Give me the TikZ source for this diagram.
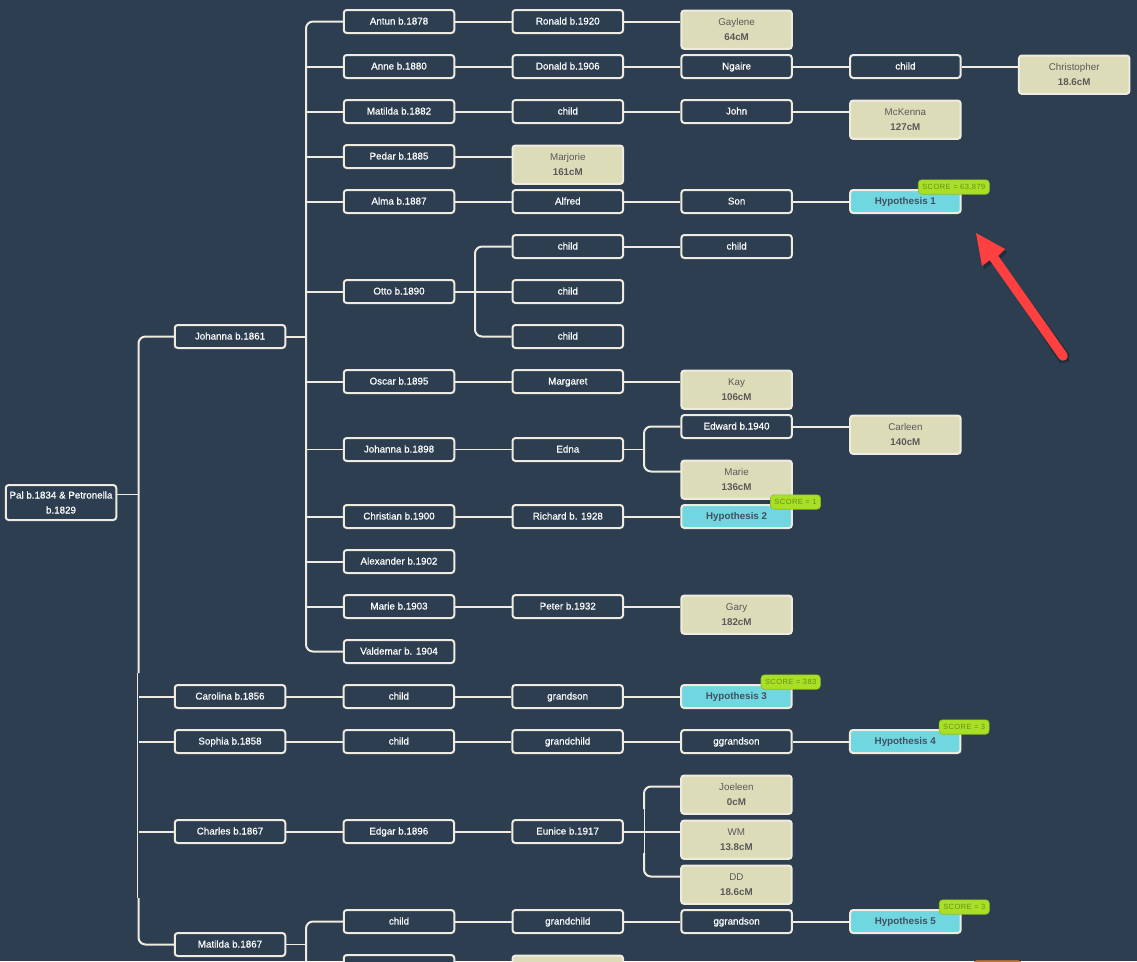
\documentclass[tikz,border=0pt]{standalone}
\usepackage{fontspec}
\setmainfont{Liberation Sans}
\usetikzlibrary{arrows}

\definecolor{treebg}{HTML}{2C3E50}
\definecolor{treeline}{HTML}{F0EBE0}
\definecolor{dnafill}{HTML}{DDDCB9}
\definecolor{hypfill}{HTML}{70D6E0}
\definecolor{scorefill}{HTML}{A8E026}
\definecolor{scoretext}{HTML}{6B8F1E}
\definecolor{offfill}{HTML}{C87533}
\definecolor{pointer}{HTML}{FF4040}

\tikzset{
  person/.style={draw=treeline, line width=2pt, rounded corners=3pt, fill=treebg,
    minimum width=110.5pt, minimum height=23pt, inner sep=0pt, align=center,
    text height=7.7pt, text depth=1.7pt, text=white,
    font=\fontsize{9.8}{15}\selectfont\addfontfeature{FakeBold=0.6}},
  dna/.style={person, fill=dnafill, minimum height=38.4pt, yshift=-8.2pt,
    text height=, text depth=, text=black!65, font=\fontsize{9.8}{15}\selectfont},
  hyp/.style={person, fill=hypfill, text=treebg!90!white, font=\fontsize{9.8}{15}\selectfont\bfseries},
  badge/.style={line width=.6pt, rounded corners=3.5pt, minimum height=14.4pt,
    inner xsep=4pt, inner ysep=0pt},
  score/.style={badge, fill=scorefill, draw=scorefill!85!black, anchor=east, yshift=2pt, xshift=28pt,
    text=scoretext, font=\fontsize{7.5}{9}\selectfont\addfontfeature{LetterSpace=6}},
  link/.style={draw=treeline, line width=2pt},
  thin link/.style={draw=treeline, line width=1pt}
}

\begin{document}
\begin{tikzpicture}[x=1pt,y=-1pt,node distance=168.8pt]
  \fill[treebg] (0,0) rectangle (1137,961);
  \clip (0,0) rectangle (1137,961);

  % bus points
  \coordinate (busroot) at (138,494);
  \coordinate (busupper) at (138.5,673);
  \coordinate (buslower) at (138.5,898);
  \coordinate (busthina) at (137.5,673);
  \coordinate (busthinb) at (137.5,898);
  \coordinate (busjoh) at (306,336.5);
  \coordinate (busotto) at (475,291.5);
  \coordinate (busedna) at (644,449.5);
  \coordinate (buseunice) at (644,809);
  \coordinate (buseunice2) at (644,853);
  \coordinate (busmat) at (306,944.5);
  \coordinate (marierow) at (681,471.5);
  \coordinate (joeleenrow) at (681,786.5);
  \coordinate (ddrow) at (681,876.5);

  % the people
  \node[person, minimum height=35pt, text height=, text depth=] (root) at (61,502.5) {Pal b.1834 \& Petronella\\b.1829};
  \node[person] (johanna) at (230,336.5) {Johanna b.1861};
  \node[person] (carolina) at (230,696.5) {Carolina b.1856};
  \node[person] (sophia) at (230,741.5) {Sophia b.1858};
  \node[person] (charles) at (230,831.5) {Charles b.1867};
  \node[person] (matilda) at (230,944.5) {Matilda b.1867};

  \node[person] (antun) at (399,21.5) {Antun b.1878};
  \node[person, node distance=45pt, below of=antun] (anne) {Anne b.1880};
  \node[person, node distance=45pt, below of=anne] (matilda2) {Matilda b.1882};
  \node[person, node distance=45pt, below of=matilda2] (pedar) {Pedar b.1885};
  \node[person, node distance=45pt, below of=pedar] (alma) {Alma b.1887};
  \node[person, node distance=90pt, below of=alma] (otto) {Otto b.1890};
  \node[person, node distance=90pt, below of=otto] (oscar) {Oscar b.1895};
  \node[person, node distance=68pt, below of=oscar] (johanna2) {Johanna b.1898};
  \node[person, node distance=67pt, below of=johanna2] (christian) {Christian b.1900};
  \node[person, node distance=45pt, below of=christian] (alexander) {Alexander b.1902};
  \node[person, node distance=45pt, below of=alexander] (marie2) {Marie b.1903};
  \node[person, node distance=45pt, below of=marie2] (valdemar) {Valdemar b. 1904};

  \node[person] (ronald) [right of=antun] {Ronald b.1920};
  \node[dna] (gaylene) [right of=ronald] {Gaylene\\\textbf{64cM}};
  \node[person] (donald) [right of=anne] {Donald b.1906};
  \node[person] (ngaire) [right of=donald] {Ngaire};
  \node[person] (childa) [right of=ngaire] {child};
  \node[dna] (christopher) [right of=childa] {Christopher\\\textbf{18.6cM}};
  \node[person] (childb) [right of=matilda2] {child};
  \node[person] (john) [right of=childb] {John};
  \node[dna] (mckenna) [right of=john] {McKenna\\\textbf{127cM}};
  \node[dna] (marjorie) [right of=pedar] {Marjorie\\\textbf{161cM}};
  \node[person] (alfred) [right of=alma] {Alfred};
  \node[person] (son) [right of=alfred] {Son};
  \node[hyp] (hypa) [right of=son] {Hypothesis 1};
  \node[person] (ottoa) [right of=otto, yshift=45pt] {child};
  \node[person] (ottoaa) [right of=ottoa] {child};
  \node[person] (ottob) [right of=otto] {child};
  \node[person] (ottoc) [right of=otto, yshift=-45pt] {child};
  \node[person] (margaret) [right of=oscar] {Margaret};
  \node[dna] (kay) [right of=margaret] {Kay\\\textbf{106cM}};
  \node[person] (edna) [right of=johanna2] {Edna};
  \node[person] (edward) [right of=edna, yshift=23pt] {Edward b.1940};
  \node[dna] (carleen) [right of=edward] {Carleen\\\textbf{140cM}};
  \node[dna] (marie) [right of=edna, yshift=-22pt] {Marie\\\textbf{136cM}};
  \node[person] (richard) [right of=christian] {Richard b. 1928};
  \node[hyp] (hypb) [right of=richard] {Hypothesis 2};
  \node[person] (peter) [right of=marie2] {Peter b.1932};
  \node[dna] (gary) [right of=peter] {Gary\\\textbf{182cM}};

  \node[person] (childc) [right of=carolina] {child};
  \node[person] (grandson) [right of=childc] {grandson};
  \node[hyp] (hypc) [right of=grandson] {Hypothesis 3};
  \node[person] (childd) [right of=sophia] {child};
  \node[person] (grandchilda) [right of=childd] {grandchild};
  \node[person] (ggrandsona) [right of=grandchilda] {ggrandson};
  \node[hyp] (hypd) [right of=ggrandsona] {Hypothesis 4};
  \node[person] (edgar) [right of=charles] {Edgar b.1896};
  \node[person] (eunice) [right of=edgar] {Eunice b.1917};
  \node[dna] (joeleen) [right of=eunice, yshift=45pt] {Joeleen\\\textbf{0cM}};
  \node[dna] (wm) [right of=eunice] {WM\\\textbf{13.8cM}};
  \node[dna] (dd) [right of=eunice, yshift=-45pt] {DD\\\textbf{18.6cM}};
  \node[person] (childe) at (399,921.5) {child};
  \node[person] (grandchildb) [right of=childe] {grandchild};
  \node[person] (ggrandsonb) [right of=grandchildb] {ggrandson};
  \node[hyp] (hype) [right of=ggrandsonb] {Hypothesis 5};
  \node[person] (lasta) at (399,966.5) {};
  \node[dna] (lastb) [right of=lasta] {};

  % scores
  \node[score] (scorea) at (hypa.north east) {SCORE = 63,879};
  \node[score] (scoreb) at (hypb.north east) {SCORE = 1};
  \node[score] (scorec) at (hypc.north east) {SCORE = 383};
  \node[score] (scored) at (hypd.north east) {SCORE = 3};
  \node[score] (scoree) at (hype.north east) {SCORE = 3};
  \node[badge, draw=offfill, fill=offfill, minimum width=48pt] (scoreoff) at (997.5,967.8) {};

  % connectors of the first bus
  \path[thin link] (busroot -| root.east) edge (busroot);
  \draw[link, rounded corners=7pt] (johanna.west) -| (busupper);
  \draw[thin link] (busthina) -- (busthinb);
  \draw[link, rounded corners=7pt] (buslower) |- (matilda.west);
  \path[link] (carolina.west) edge (carolina.west -| busupper)
  (sophia.west) edge (sophia.west -| busupper)
  (charles.west) edge (charles.west -| busupper);

  % connectors of Johanna b.1861
  \draw[link, rounded corners=7pt] (antun.west) -| (busjoh) |- (valdemar.west);
  \path[link] (johanna) edge (busjoh)
  (anne) edge (anne -| busjoh)
  (matilda2) edge (matilda2 -| busjoh)
  (pedar) edge (pedar -| busjoh)
  (alma) edge (alma -| busjoh)
  (otto) edge (otto -| busjoh)
  (oscar) edge (oscar -| busjoh)
  (christian) edge (christian -| busjoh)
  (alexander) edge (alexander -| busjoh)
  (marie2) edge (marie2 -| busjoh)
  (johanna2) edge[thin link] (johanna2 -| busjoh);

  % the rows
  \path[link] (antun) edge (ronald)
  (ronald) edge (ronald -| gaylene.west)
  (anne) edge (donald)
  (donald) edge (ngaire)
  (ngaire) edge (childa)
  (childa) edge (childa -| christopher.west)
  (matilda2) edge (childb)
  (childb) edge (john)
  (john) edge (john -| mckenna.west)
  (pedar) edge (pedar -| marjorie.west)
  (alma) edge (alfred)
  (alfred) edge (son)
  (son) edge (hypa)
  (ottoa) edge (ottoaa)
  (otto) edge (ottob)
  (oscar) edge (margaret)
  (margaret) edge (margaret -| kay.west)
  (edward) edge (edward -| carleen.west)
  (christian) edge (richard)
  (richard) edge (hypb)
  (marie2) edge (peter)
  (peter) edge (peter -| gary.west)
  (carolina) edge (childc)
  (childc) edge (grandson)
  (grandson) edge (hypc)
  (sophia) edge (childd)
  (childd) edge (grandchilda)
  (grandchilda) edge (ggrandsona)
  (ggrandsona) edge (hypd)
  (charles) edge (edgar)
  (edgar) edge (eunice)
  (eunice) edge (eunice -| wm.west)
  (childe) edge (grandchildb)
  (grandchildb) edge (ggrandsonb)
  (ggrandsonb) edge (hype);

  % the other forks
  \draw[link, rounded corners=7pt] (ottoa.west) -| (busotto) |- (ottoc.west);
  \path[thin link] (johanna2) edge (edna)
  (edna) edge (busedna);
  \draw[link, rounded corners=7pt] (edward.west) -| (busedna) |- (marierow);
  \draw[link, rounded corners=7pt] (joeleenrow) -| (buseunice);
  \draw[thin link] (buseunice) -- (buseunice2);
  \draw[link, rounded corners=7pt] (buseunice2) |- (ddrow);
  \path[thin link] (matilda) edge (busmat);
  \draw[link, rounded corners=7pt] (childe.west) -| (busmat) |- (lasta.west);

  % pointer
  \fill[black, opacity=.25] (978,236) -- (1007,252) -- (1000,259) -- (1069,354) -- (1069,362) -- (1060,363) -- (993,263) -- (984,269) -- cycle;
  \coordinate (pointertip) at (976,233);
  \coordinate (pointertail) at (1063,356);
  \coordinate (pointerneck) at (994,258);
  \draw[pointer, line width=9.5pt, line cap=round] (pointertail) -- (pointerneck);
  \fill[pointer] (pointertip) -- (1005,249) -- (998,256) -- (990,260) -- (982,266) -- cycle;
\end{tikzpicture}
\end{document}
